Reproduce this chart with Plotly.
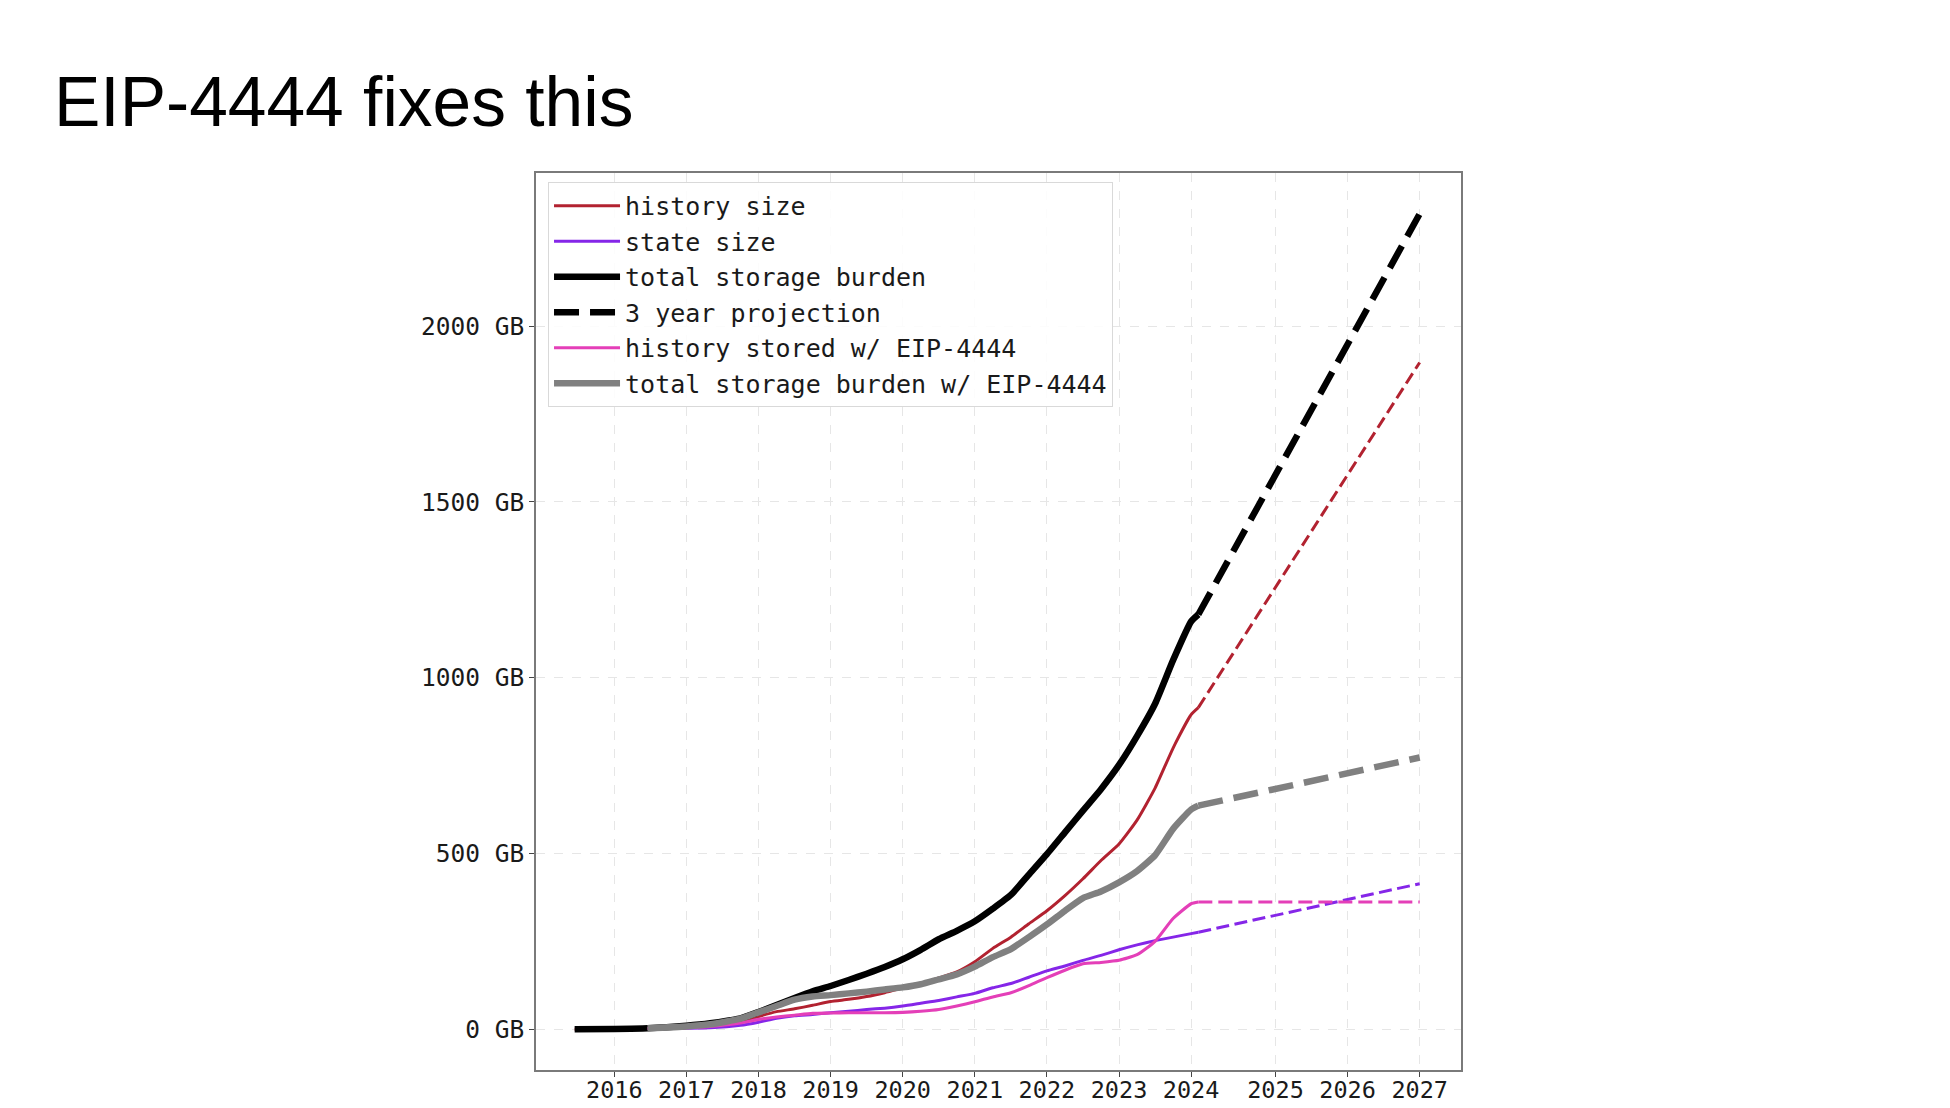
import plotly.graph_objects as go

# ---------------- data ----------------
years_hist = [2015.45, 2016.0, 2016.46, 2017.0, 2017.33, 2017.75, 2018.0, 2018.25, 2018.5,
              2018.75, 2019.0, 2019.25, 2019.5, 2019.75, 2020.0, 2020.25, 2020.5, 2020.75,
              2021.0, 2021.25, 2021.5, 2021.75, 2022.0, 2022.25, 2022.5, 2022.75, 2023.0,
              2023.25, 2023.5, 2023.75, 2024.0, 2024.1]

history_size = [0, 1, 2, 5, 9, 20, 36, 50, 58, 68, 79, 85, 93, 104, 117, 130, 146, 163,
                192, 230, 262, 300, 337, 380, 428, 480, 527, 595, 686, 800, 895, 915]
state_size = [None, None, 2, 3, 4, 11, 20, 31, 38, 42, 47, 51, 56, 60, 66, 74, 82, 92,
              102, 118, 130, 148, 166, 180, 196, 210, 226, 240, 252, 262, 272, 276]
total_burden = [0, 1, 3, 10, 17, 31, 49, 69, 89, 108, 123, 140, 158, 177, 199, 226, 256, 280,
                307, 343, 382, 440, 498, 560, 622, 683, 752, 834, 926, 1050, 1160, 1180]
history_4444 = [None, None, 2, 4, 8, 18, 28, 35, 40, 45, 46, 47, 47, 47, 48, 51, 56, 66,
                78, 92, 104, 124, 147, 168, 186, 190, 196, 212, 250, 315, 357, 362]
total_4444 = [None, None, 3, 8, 14, 30, 48, 66, 84, 93, 97, 102, 107, 113, 119, 128, 142, 156,
              178, 205, 228, 262, 298, 337, 373, 392, 418, 450, 495, 570, 625, 636]

years_proj = [2024.1, 2027.17]
history_proj = [915, 1897]
state_proj = [276, 414]
total_proj = [1180, 2320]
history_4444_proj = [362, 362]
total_4444_proj = [636, 773]

tick_years = [2016, 2017, 2018, 2019, 2020, 2021, 2022, 2023, 2024, 2025.17, 2026.17, 2027.17]
tick_labels = ["2016", "2017", "2018", "2019", "2020", "2021", "2022", "2023", "2024",
               "2025", "2026", "2027"]
y_ticks = [0, 500, 1000, 1500, 2000]
y_tick_labels = ["0 GB", "500 GB", "1000 GB", "1500 GB", "2000 GB"]

# ---------------- styles ----------------
RED = "#b22230"
PURPLE = "#8526e8"
BLACK = "#000000"
PINK = "#e43fb8"
GRAY = "#808080"
MONO = "DejaVu Sans Mono"

fig = go.Figure()


def add(x, y, color, width, name=None, dash=None, show=False, rank=None):
    fig.add_trace(go.Scatter(
        x=x, y=y, mode="lines", name=name, showlegend=show,
        legendrank=rank if rank is not None else 1000,
        line=dict(color=color, width=width, dash=dash, shape="spline", smoothing=0.5),
        connectgaps=False, hoverinfo="skip",
    ))


add(years_hist, history_size, RED, 3.0, "history size", show=True, rank=1)
add(years_proj, history_proj, RED, 3.0, dash="12px,5.5px")
add(years_hist, state_size, PURPLE, 3.0, "state size", show=True, rank=2)
add(years_proj, state_proj, PURPLE, 3.0, dash="13px,5.5px")
add(years_hist, total_burden, BLACK, 6.5, "total storage burden", show=True, rank=3)
add(years_proj, total_proj, BLACK, 6.5, "3 year projection", dash="25px,11px", show=True, rank=4)
add(years_hist, history_4444, PINK, 3.1, "history stored w/ EIP-4444", show=True, rank=5)
add(years_proj, history_4444_proj, PINK, 3.1, dash="14px,6px")
add(years_hist, total_4444, GRAY, 6.5, "total storage burden w/ EIP-4444", show=True, rank=6)
add(years_proj, total_4444_proj, GRAY, 6.5, dash="25px,11px")

axis_common = dict(
    showline=True, mirror=True, linecolor="#7a7a7a", linewidth=1.5,
    showgrid=True, gridcolor="#e6e6e6", griddash="dash", gridwidth=1,
    zeroline=False, ticks="outside", ticklen=5, tickwidth=1.2, tickcolor="#444",
    automargin=False,
)

# the page body adds an 8px offset, so the figure is laid out 8px up/left
fig.update_layout(
    width=1942, height=1100,
    margin=dict(l=528, r=489, t=165, b=38),
    paper_bgcolor="white", plot_bgcolor="white",
    title=dict(
        text="EIP-4444 fixes this",
        font=dict(family="Liberation Sans, Arial, sans-serif", size=69.5, color="black"),
        x=46 / 1942, xanchor="left",
        y=1 - 94 / 1100, yanchor="middle", yref="container",
    ),
    xaxis=dict(range=[2014.914, 2027.743], tickvals=tick_years, ticktext=tick_labels,
               tickfont=dict(family=MONO, size=23.5, color="#1a1a1a"),
               ticklabelstandoff=-7, **axis_common),
    yaxis=dict(range=[-116, 2436], tickvals=y_ticks, ticktext=y_tick_labels,
               tickfont=dict(family=MONO, size=24.5, color="#1a1a1a"), **axis_common),
    legend=dict(
        x=0.013, y=0.99, xanchor="left", yanchor="top",
        font=dict(family=MONO, size=25, color="#1a1a1a"),
        bgcolor="rgba(255,255,255,0.85)", bordercolor="#d9d9d9", borderwidth=1,
        itemwidth=66, traceorder="normal",
    ),
    showlegend=True,
)

fig.write_html("out.html")
